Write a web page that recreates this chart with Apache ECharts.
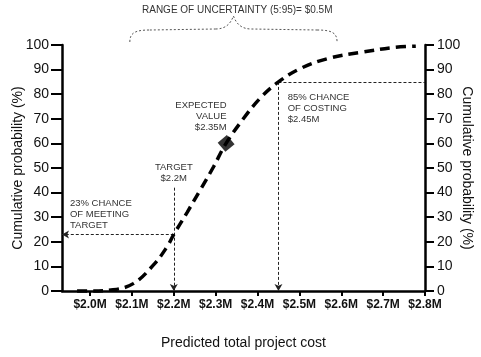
<!DOCTYPE html>
<html>
<head>
<meta charset="utf-8">
<script src="https://cdn.jsdelivr.net/npm/echarts@6/dist/echarts.min.js"></script>
<style>html,body{margin:0;padding:0;background:#fff;}#c{width:481px;height:357px;}</style>
</head>
<body>
<div id="c"></div>
<script>
// ---- data ----
const costs    = [1.969, 2.0, 2.055, 2.103, 2.151, 2.184, 2.2, 2.232, 2.263, 2.295, 2.323, 2.366, 2.407, 2.45, 2.503, 2.568, 2.647, 2.726, 2.778];
const cumProb  = [0, 0, 0.5, 3, 10.5, 18, 23, 32, 41, 50.5, 59.5, 70, 78.5, 85, 90.5, 94.5, 97, 99, 99.5];
const xTicks   = [2.0, 2.1, 2.2, 2.3, 2.4, 2.5, 2.6, 2.7, 2.8];
const xTickLabels = ['$2.0M', '$2.1M', '$2.2M', '$2.3M', '$2.4M', '$2.5M', '$2.6M', '$2.7M', '$2.8M'];
const expectedPoint = [2.325, 60];
const targetCost = 2.2, targetProb = 23;
const p85Cost = 2.45, p85Prob = 85;
const rangeLow = 2.095, rangeHigh = 2.59;
const titleText = 'RANGE OF UNCERTAINTY (5:95)= $0.5M';
const noteExpected = 'EXPECTED\nVALUE\n$2.35M';
const noteTarget = 'TARGET\n$2.2M';
const noteChance = '23% CHANCE\nOF MEETING\nTARGET';
const note85 = '85% CHANCE\nOF COSTING\n$2.45M';
const yName = 'Cumulative probability (%)';
const xName = 'Predicted total project cost';

const xMin = 1.933, xMax = 2.8;
const FONT = '"Liberation Sans", Arial, sans-serif';
const noteColor = '#333';

const chart = echarts.init(document.getElementById('c'), null, {renderer: 'canvas'});

const dotted = {type: [3, 2], width: 1, color: '#222'};
function note(text, coord, align) {
  return {
    coord: coord, symbol: 'circle', symbolSize: 0,
    label: {show: true, position: [0, 0], formatter: text, align: align, verticalAlign: 'top',
      fontSize: 9.5, lineHeight: 11, color: noteColor, fontFamily: FONT}
  };
}
const yAxisCommon = {
  type: 'value', min: 0, max: 100, interval: 10,
  splitLine: {show: false},
  axisLine: {show: true, lineStyle: {color: '#000', width: 2.5}},
  axisTick: {show: true, length: 11, lineStyle: {color: '#000', width: 2}},
  axisLabel: {fontSize: 14, color: '#111', fontFamily: FONT},
  nameLocation: 'middle', nameMoveOverlap: false,
  nameTextStyle: {fontSize: 14, color: '#111', fontFamily: FONT}
};

chart.setOption({
  animation: false,
  textStyle: {fontFamily: FONT},
  title: {text: titleText, left: 137, top: 0,
    textStyle: {fontSize: 10, fontWeight: 'normal', color: noteColor, fontFamily: FONT}},
  grid: {left: 62, right: 56, top: 45, bottom: 66, containLabel: false, outerBoundsMode: 'none'},
  xAxis: {
    type: 'value', min: xMin, max: xMax,
    splitLine: {show: false},
    axisLine: {show: true, lineStyle: {color: '#000', width: 2.5}},
    axisTick: {show: true, customValues: xTicks, length: 5, lineStyle: {color: '#000', width: 2}},
    axisLabel: {customValues: xTicks, margin: 8, fontSize: 12, fontWeight: 'bold', color: '#111', fontFamily: FONT,
      formatter: v => { const i = xTicks.findIndex(t => Math.abs(t - v) < 1e-6); return i >= 0 ? xTickLabels[i] : ''; }},
    name: xName, nameLocation: 'middle', nameGap: 45, nameMoveOverlap: false,
    nameTextStyle: {fontSize: 14, color: '#111', fontFamily: FONT}
  },
  yAxis: [
    Object.assign({}, yAxisCommon, {position: 'left', name: yName, nameGap: 37,
      axisLabel: Object.assign({}, yAxisCommon.axisLabel, {margin: 13})}),
    Object.assign({}, yAxisCommon, {position: 'right', name: yName, nameGap: 35, nameRotate: -90,
      axisTick: Object.assign({}, yAxisCommon.axisTick, {length: 9}),
      axisLabel: Object.assign({}, yAxisCommon.axisLabel, {margin: 12})})
  ],
  series: [
    {
      type: 'line', smooth: 0.4, showSymbol: false, clip: false,
      data: costs.map((c, i) => [c, cumProb[i]]),
      lineStyle: {color: '#000', width: 3.5, type: [10, 6], cap: 'butt'},
      z: 5,
      markLine: {
        silent: true, symbol: ['none', 'arrow'], symbolSize: [6, 7], precision: 3,
        lineStyle: dotted, label: {show: false}, animation: false,
        data: [
          [{coord: [targetCost, targetProb]}, {coord: [xMin, targetProb]}],
          [{coord: [targetCost, 42]}, {coord: [targetCost, 0]}],
          [{coord: [p85Cost, p85Prob]}, {coord: [p85Cost, 0]}],
          [{coord: [p85Cost, p85Prob], symbol: 'none'}, {coord: [xMax, p85Prob], symbol: 'none'}]
        ]
      },
      markPoint: {
        silent: true, animation: false,
        data: [
          note(noteExpected, [2.326, 77.6], 'right'),
          note(noteTarget, [targetCost, 52.4], 'center'),
          note(noteChance, [1.952, 37.8], 'left'),
          note(note85, [2.472, 80.9], 'left')
        ]
      }
    },
    {
      type: 'scatter', data: [expectedPoint], symbol: 'rect', symbolSize: 12, symbolRotate: 40,
      itemStyle: {color: '#000'}, z: 6
    }
  ]
});

// brace over the range of uncertainty
const x1 = chart.convertToPixel({xAxisIndex: 0}, rangeLow);
const x2 = chart.convertToPixel({xAxisIndex: 0}, rangeHigh);
const pk = (x1 + x2) / 2;
const braceStyle = {fill: null, stroke: '#555', lineWidth: 1, lineDash: [2, 2]};
function bez(a, b, c1, c2) {
  return {type: 'bezierCurve', silent: true, style: braceStyle,
    shape: {x1: a[0], y1: a[1], x2: b[0], y2: b[1], cpx1: c1[0], cpy1: c1[1], cpx2: c2[0], cpy2: c2[1]}};
}
function seg(a, b) {
  return {type: 'line', silent: true, style: braceStyle, shape: {x1: a[0], y1: a[1], x2: b[0], y2: b[1]}};
}
chart.setOption({
  graphic: [
    bez([x1, 42], [x1 + 20, 30], [x1, 33], [x1 + 5, 30]),
    seg([x1 + 20, 30], [pk - 18, 29]),
    bez([pk - 18, 29], [pk, 16], [pk - 8, 29], [pk - 3, 24]),
    bez([pk, 16], [pk + 18, 29], [pk + 3, 24], [pk + 8, 29]),
    seg([pk + 18, 29], [x2 - 20, 30]),
    bez([x2 - 20, 30], [x2, 42], [x2 - 5, 30], [x2, 33])
  ]
});
</script>
</body>
</html>
